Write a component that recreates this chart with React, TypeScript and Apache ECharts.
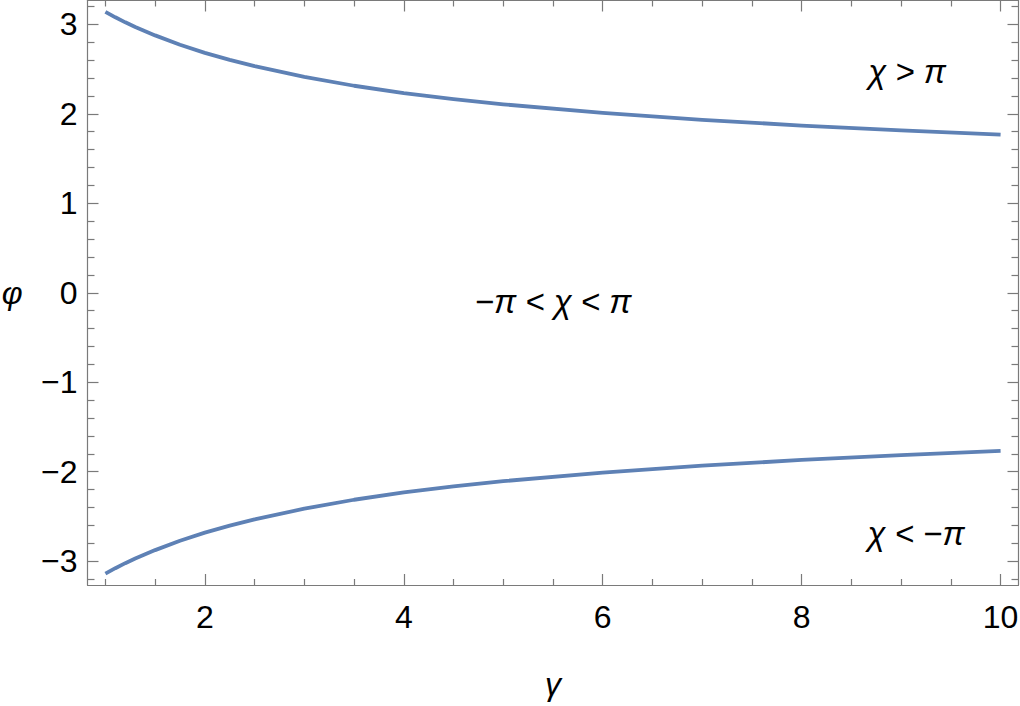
import React, { useEffect, useRef } from "react";
import * as echarts from "echarts";

const gammaValues = [1, 1.1, 1.2, 1.3, 1.4, 1.5, 1.75, 2, 2.25, 2.5, 3, 3.5, 4, 4.5, 5, 6, 7, 8, 9, 10];
const upperPhi = [3.14, 3.079, 3.023, 2.971, 2.923, 2.877, 2.772, 2.682, 2.604, 2.534, 2.414, 2.314, 2.231, 2.165, 2.106, 2.011, 1.933, 1.869, 1.815, 1.768];
const lowerPhi = [-3.14, -3.079, -3.023, -2.971, -2.923, -2.877, -2.772, -2.682, -2.604, -2.534, -2.414, -2.314, -2.231, -2.165, -2.106, -2.011, -1.933, -1.869, -1.815, -1.768];

const xMajorTicks = [2, 4, 6, 8, 10];
const xMinorTicks = [1, 1.5, 2.5, 3, 3.5, 4.5, 5, 5.5, 6.5, 7, 7.5, 8.5, 9, 9.5];
const yMajorTicks = [-3, -2, -1, 0, 1, 2, 3];
const yMinorTicks = [
  -3.2, -2.8, -2.6, -2.4, -2.2, -1.8, -1.6, -1.4, -1.2, -0.8, -0.6, -0.4, -0.2,
  0.2, 0.4, 0.6, 0.8, 1.2, 1.4, 1.6, 1.8, 2.2, 2.4, 2.6, 2.8, 3.2,
];

const X_MIN = 0.82;
const X_MAX = 10.18;
const Y_MIN = -3.267;
const Y_MAX = 3.267;

const FRAME = "#7a7a7a";
const LINE = "#5e81b5";
const FONT = "Liberation Sans, Arial, sans-serif";

const fmt = (v: number) => (v < 0 ? "\u2212" + Math.abs(v) : String(v));

function xAxisDef(position: "top" | "bottom", ticks: number[], len: number, labels: boolean, line: boolean, name?: string) {
  return {
    type: "value",
    position,
    min: X_MIN,
    max: X_MAX,
    name: name,
    nameLocation: "middle",
    nameGap: 83,
    nameTextStyle: { fontFamily: FONT, fontStyle: "italic", fontSize: 32, color: "#000" },
    axisLine: { show: line, onZero: false, lineStyle: { color: FRAME, width: 1.2 } },
    axisTick: { show: true, inside: true, length: len, customValues: ticks, lineStyle: { color: FRAME, width: 1.2 } },
    axisLabel: {
      show: labels,
      customValues: ticks,
      margin: 16,
      fontFamily: FONT,
      fontSize: 32,
      color: "#000",
      formatter: fmt,
    },
    splitLine: { show: false },
  };
}

function yAxisDef(position: "left" | "right", ticks: number[], len: number, labels: boolean, line: boolean, name?: string) {
  return {
    type: "value",
    position,
    min: Y_MIN,
    max: Y_MAX,
    name: name,
    nameLocation: "middle",
    nameRotate: 0,
    nameGap: 65,
    nameTextStyle: { fontFamily: FONT, fontStyle: "italic", fontSize: 32, color: "#000" },
    axisLine: { show: line, onZero: false, lineStyle: { color: FRAME, width: 1.2 } },
    axisTick: { show: true, inside: true, length: len, customValues: ticks, lineStyle: { color: FRAME, width: 1.2 } },
    axisLabel: {
      show: labels,
      customValues: ticks,
      margin: 10,
      fontFamily: FONT,
      fontSize: 32,
      color: "#000",
      formatter: fmt,
    },
    splitLine: { show: false },
  };
}

export default function App() {
  const ref = useRef<HTMLDivElement>(null);
  useEffect(() => {
    document.body.style.margin = "0";
    const chart = echarts.init(ref.current!, null, { renderer: "svg" });
    const textStyle = { fontFamily: FONT, fontStyle: "italic", fontSize: 33, fill: "#000" };
    chart.setOption({
      animation: false,
      backgroundColor: "#fff",
      grid: { left: 87.5, right: 1.5, top: 0.5, bottom: 121, containLabel: false, outerBoundsMode: "none" },
      xAxis: [
        xAxisDef("bottom", xMajorTicks, 11, true, true, "\u03b3"),
        xAxisDef("bottom", xMinorTicks, 6, false, false),
        xAxisDef("top", xMajorTicks, 11, false, true),
        xAxisDef("top", xMinorTicks, 6, false, false),
      ],
      yAxis: [
        yAxisDef("left", yMajorTicks, 11, true, true, "\u03c6"),
        yAxisDef("left", yMinorTicks, 7, false, false),
        yAxisDef("right", yMajorTicks, 11, false, true),
        yAxisDef("right", yMinorTicks, 7, false, false),
      ],
      series: [
        {
          type: "line",
          xAxisIndex: 0,
          yAxisIndex: 0,
          data: gammaValues.map((g, i) => [g, upperPhi[i]]),
          smooth: false,
          showSymbol: false,
          lineStyle: { color: LINE, width: 3.8, join: "round" },
        },
        {
          type: "line",
          xAxisIndex: 0,
          yAxisIndex: 0,
          data: gammaValues.map((g, i) => [g, lowerPhi[i]]),
          smooth: false,
          showSymbol: false,
          lineStyle: { color: LINE, width: 3.8, join: "round" },
        },
      ],
      graphic: [
        { type: "text", x: 907, y: 71, style: { ...textStyle, text: "\u03c7 > \u03c0", align: "center", verticalAlign: "middle" } },
        { type: "text", x: 553, y: 301, style: { ...textStyle, text: "\u2212\u03c0 < \u03c7 < \u03c0", align: "center", verticalAlign: "middle" } },
        { type: "text", x: 916, y: 533, style: { ...textStyle, text: "\u03c7 < \u2212\u03c0", align: "center", verticalAlign: "middle" } },
      ],
    });
    return () => chart.dispose();
  }, []);
  return <div ref={ref} style={{ position: "fixed", left: 0, top: 0, width: 1020, height: 706 }} />;
}
